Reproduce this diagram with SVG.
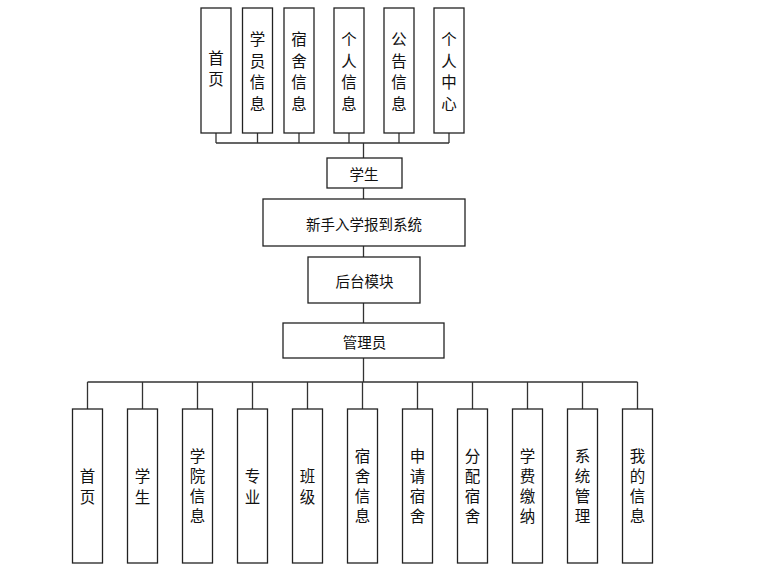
<svg xmlns="http://www.w3.org/2000/svg" width="760" height="583" viewBox="0 0 760 583">
<style>
.b{fill:#fff;stroke:#222;stroke-width:1.3}
.c{fill:none;stroke:#333;stroke-width:1.3}
text{font-family:"Noto Sans CJK SC","Noto Sans",sans-serif;fill:#111;text-anchor:middle;dominant-baseline:central}
.v{font-size:15.5px}
.m{font-size:14.5px}
</style>
<rect width="760" height="583" fill="#fff"/>
<g id="connectors">
<path class="c" d="M216,133V143M257.5,133V143M299,133V143M349,133V143M399,133V143M449,133V143M216,143H449M363.5,143V158"/>
<path class="c" d="M363.5,188V199M363.5,246V257M363.5,303V323M363.5,358V382"/>
<path class="c" d="M87.5,382H637.5M87.5,382V409M142.5,382V409M197.5,382V409M252.5,382V409M307.5,382V409M362.5,382V409M417.5,382V409M472.5,382V409M527.5,382V409M582.5,382V409M637.5,382V409"/>
</g>
<g id="t1"><rect class="b" x="201" y="8" width="30" height="125"/><text class="v" x="216" y="57">首</text><text class="v" x="216" y="78">页</text></g>
<g id="t2"><rect class="b" x="242.5" y="8" width="30" height="125"/><text class="v" x="257.5" y="38">学</text><text class="v" x="257.5" y="59.5">员</text><text class="v" x="257.5" y="81">信</text><text class="v" x="257.5" y="102.5">息</text></g>
<g id="t3"><rect class="b" x="284" y="8" width="30" height="125"/><text class="v" x="299" y="38">宿</text><text class="v" x="299" y="59.5">舍</text><text class="v" x="299" y="81">信</text><text class="v" x="299" y="102.5">息</text></g>
<g id="t4"><rect class="b" x="334" y="8" width="30" height="125"/><text class="v" x="349" y="38">个</text><text class="v" x="349" y="59.5">人</text><text class="v" x="349" y="81">信</text><text class="v" x="349" y="102.5">息</text></g>
<g id="t5"><rect class="b" x="384" y="8" width="30" height="125"/><text class="v" x="399" y="38">公</text><text class="v" x="399" y="59.5">告</text><text class="v" x="399" y="81">信</text><text class="v" x="399" y="102.5">息</text></g>
<g id="t6"><rect class="b" x="434" y="8" width="30" height="125"/><text class="v" x="449" y="38">个</text><text class="v" x="449" y="59.5">人</text><text class="v" x="449" y="81">中</text><text class="v" x="449" y="102.5">心</text></g>
<g id="student"><rect class="b" x="327" y="158" width="75" height="30"/><text class="m" x="364" y="173">学生</text></g>
<g id="system"><rect class="b" x="263" y="199" width="202" height="47"/><text class="m" x="364" y="223">新手入学报到系统</text></g>
<g id="backend"><rect class="b" x="308" y="257" width="112" height="46"/><text class="m" x="364.5" y="280">后台模块</text></g>
<g id="admin"><rect class="b" x="283" y="323" width="161" height="35"/><text class="m" x="364.5" y="341">管理员</text></g>
<g id="b1"><rect class="b" x="72.5" y="409" width="30" height="154"/><text class="v" x="87.5" y="475">首</text><text class="v" x="87.5" y="496">页</text></g>
<g id="b2"><rect class="b" x="127.5" y="409" width="30" height="154"/><text class="v" x="142.5" y="475">学</text><text class="v" x="142.5" y="496">生</text></g>
<g id="b3"><rect class="b" x="182.5" y="409" width="30" height="154"/><text class="v" x="197.5" y="455">学</text><text class="v" x="197.5" y="475">院</text><text class="v" x="197.5" y="495">信</text><text class="v" x="197.5" y="515">息</text></g>
<g id="b4"><rect class="b" x="237.5" y="409" width="30" height="154"/><text class="v" x="252.5" y="475">专</text><text class="v" x="252.5" y="496">业</text></g>
<g id="b5"><rect class="b" x="292.5" y="409" width="30" height="154"/><text class="v" x="307.5" y="475">班</text><text class="v" x="307.5" y="496">级</text></g>
<g id="b6"><rect class="b" x="347.5" y="409" width="30" height="154"/><text class="v" x="362.5" y="455">宿</text><text class="v" x="362.5" y="475">舍</text><text class="v" x="362.5" y="495">信</text><text class="v" x="362.5" y="515">息</text></g>
<g id="b7"><rect class="b" x="402.5" y="409" width="30" height="154"/><text class="v" x="417.5" y="455">申</text><text class="v" x="417.5" y="475">请</text><text class="v" x="417.5" y="495">宿</text><text class="v" x="417.5" y="515">舍</text></g>
<g id="b8"><rect class="b" x="457.5" y="409" width="30" height="154"/><text class="v" x="472.5" y="455">分</text><text class="v" x="472.5" y="475">配</text><text class="v" x="472.5" y="495">宿</text><text class="v" x="472.5" y="515">舍</text></g>
<g id="b9"><rect class="b" x="512.5" y="409" width="30" height="154"/><text class="v" x="527.5" y="455">学</text><text class="v" x="527.5" y="475">费</text><text class="v" x="527.5" y="495">缴</text><text class="v" x="527.5" y="515">纳</text></g>
<g id="b10"><rect class="b" x="567.5" y="409" width="30" height="154"/><text class="v" x="582.5" y="455">系</text><text class="v" x="582.5" y="475">统</text><text class="v" x="582.5" y="495">管</text><text class="v" x="582.5" y="515">理</text></g>
<g id="b11"><rect class="b" x="622.5" y="409" width="30" height="154"/><text class="v" x="637.5" y="455">我</text><text class="v" x="637.5" y="475">的</text><text class="v" x="637.5" y="495">信</text><text class="v" x="637.5" y="515">息</text></g>
</svg>
